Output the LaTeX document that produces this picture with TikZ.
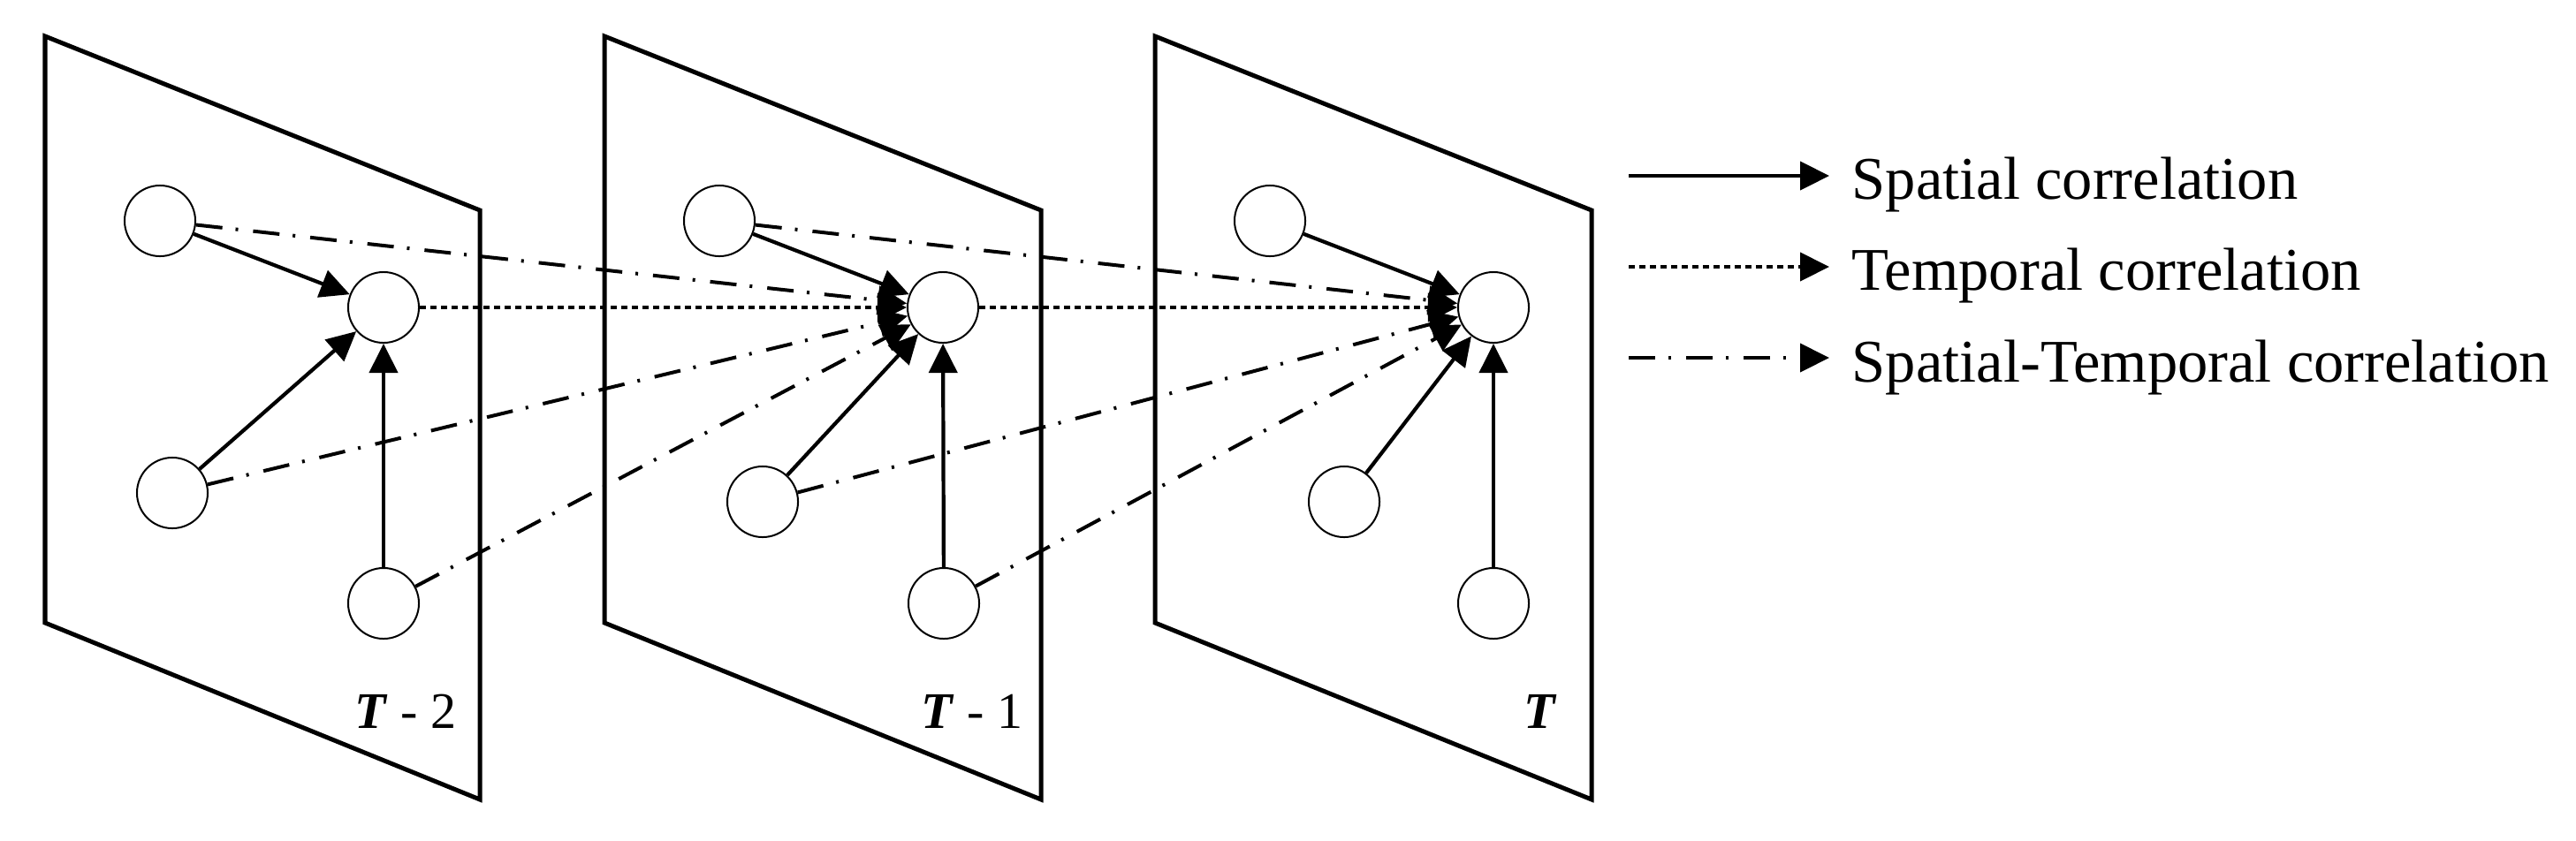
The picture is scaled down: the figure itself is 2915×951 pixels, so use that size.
\documentclass[tikz,border=0pt]{standalone}
\usepackage{fontspec}
\setmainfont{Liberation Serif}
\usetikzlibrary{arrows.meta}

\begin{document}
\begin{tikzpicture}[x=0.01cm, y=-0.01cm,
    plane/.style={line width=0.05cm, line join=miter},
    vtx/.style={circle, draw, line width=0.02cm, fill=white, minimum size=0.8cm, inner sep=0pt},
    tip/.style={-{Triangle[length=0.33cm,width=0.32cm]}},
    spatial/.style={tip, line width=0.042cm},
    temporal/.style={tip, line width=0.04cm, dash pattern=on 0.07cm off 0.05cm},
    spattemp/.style={tip, line width=0.04cm, dash pattern=on 0.3cm off 0.15cm on 0.03cm off 0.17cm},
    tlabel/.style={inner sep=0pt, font=\fontsize{16.5pt}{19pt}\selectfont},
    legtext/.style={inner sep=0pt, font=\fontsize{19.5pt}{23pt}\selectfont}]
\useasboundingbox (0,0) rectangle (2915,951);

% Drawing plane T - 2
\draw [plane] (51,41) -- (543,238) -- (543,905) -- (51,705) -- cycle;%
\node [tlabel, anchor=base east] (lab1) at (517,824) {\textbf{\textit{T}} - 2};%

% Drawing plane T - 1
\draw [plane] (684,41) -- (1178,238) -- (1178,905) -- (684,705) -- cycle;%
\node [tlabel, anchor=base east] (lab2) at (1158,824) {\textbf{\textit{T}} - 1};%

% Drawing plane T
\draw [plane] (1307,41) -- (1801,238) -- (1801,905) -- (1307,705) -- cycle;%
\node [tlabel, anchor=base east] (lab3) at (1763,824) {\textbf{\textit{T}}};%

% Marking vertices of plane T - 2
\node [vtx] (a1) at (181,250) {};%
\node [vtx] (b1) at (434,348) {};%
\node [vtx] (c1) at (195,558) {};%
\node [vtx] (d1) at (434,683) {};%

% Marking vertices of plane T - 1
\node [vtx] (a2) at (814,250) {};%
\node [vtx] (b2) at (1067,348) {};%
\node [vtx] (c2) at (863,568) {};%
\node [vtx] (d2) at (1068,683) {};%

% Marking vertices of plane T
\node [vtx] (a3) at (1437,250) {};%
\node [vtx] (b3) at (1690,348) {};%
\node [vtx] (c3) at (1521,568) {};%
\node [vtx] (d3) at (1690,683) {};%

% Drawing spatial correlation
\draw [spatial] (a1) -- (b1);%
\draw [spatial] (c1) -- (b1);%
\draw [spatial] (d1) -- (b1);%
\draw [spatial] (a2) -- (b2);%
\draw [spatial] (c2) -- (b2);%
\draw [spatial] (d2) -- (b2);%
\draw [spatial] (a3) -- (b3);%
\draw [spatial] (c3) -- (b3);%
\draw [spatial] (d3) -- (b3);%

% Drawing temporal correlation
\draw [temporal] (b1) -- (b2);%
\draw [temporal] (b2) -- (b3);%

% Drawing spatial-temporal correlation
\draw [spattemp] (a1) -- (b2);%
\draw [spattemp] (c1) -- (b2);%
\draw [spattemp] (d1) -- (b2);%
\draw [spattemp] (a2) -- (b3);%
\draw [spattemp] (c2) -- (b3);%
\draw [spattemp] (d2) -- (b3);%

% Drawing legend
\node [legtext, anchor=base west] (leg1) at (2095,225) {Spatial correlation};%
\node [legtext, anchor=base west] (leg2) at (2095,328) {Temporal correlation};%
\node [legtext, anchor=base west] (leg3) at (2095,432) {Spatial-Temporal correlation};%
\coordinate (leg1s) at (1843,199);%
\coordinate (leg1e) at (2070,199);%
\coordinate (leg2s) at (1843,302);%
\coordinate (leg2e) at (2070,302);%
\coordinate (leg3s) at (1843,405);%
\coordinate (leg3e) at (2070,405);%
\draw [spatial] (leg1s) -- (leg1e);%
\draw [temporal] (leg2s) -- (leg2e);%
\draw [spattemp] (leg3s) -- (leg3e);%
\end{tikzpicture}
\end{document}
